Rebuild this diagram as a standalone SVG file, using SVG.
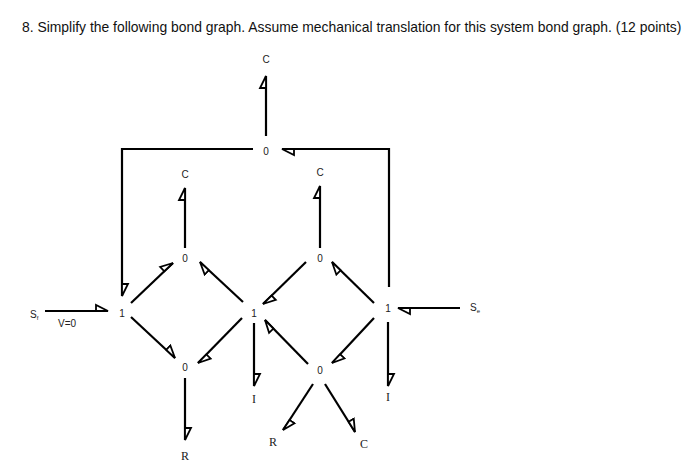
<svg xmlns="http://www.w3.org/2000/svg" width="700" height="476" viewBox="0 0 700 476">
<style>
text{font-family:"Liberation Sans",Arial,sans-serif;font-size:10px;fill:#222}
.s{font-family:"Liberation Serif","Times New Roman",serif;font-size:12px}
.t{font-size:13.9px;fill:#111}
.b{stroke:#000;stroke-width:2.2;fill:none;marker-end:url(#h)}
</style>
<defs>
<marker id="h" markerUnits="userSpaceOnUse" viewBox="-13 -8 15 16" markerWidth="15" markerHeight="16" refX="0" refY="0" orient="auto">
<path d="M0,0 L-12,-6 L-12,0 Z" fill="#fff" stroke="#000" stroke-width="1.8"/>
</marker>
</defs>
<rect width="700" height="476" fill="#fff"/>
<text class="t" x="22" y="32">8.  Simplify the following bond graph. Assume mechanical translation for this system bond graph. (12 points)</text>
<g id="connectors">
<path class="b" d="M266,136 V76"/>
<path class="b" d="M253,149 H122 V296"/>
<path class="b" d="M389,287 V149 H282"/>
<path class="b" d="M45,311 H108"/>
<path class="b" d="M460,308 H398"/>
<path class="b" d="M185,248 V188"/>
<path class="b" d="M320,248 V186"/>
<path class="b" d="M185,378 V440"/>
<path class="b" d="M254,323 V386"/>
<path class="b" d="M388,322 V386"/>
<path class="b" d="M131,303 L173,263"/>
<path class="b" d="M243,302 L200,262"/>
<path class="b" d="M131,317 L175,358"/>
<path class="b" d="M242,318 L198,363"/>
<path class="b" d="M306,262 L263,304"/>
<path class="b" d="M374,303 L332,262"/>
<path class="b" d="M308,364 L265,320"/>
<path class="b" d="M374,318 L332,363"/>
<path class="b" d="M313,384 L283,430"/>
<path class="b" d="M325,384 L355,432"/>
</g>
<g id="n0top"><text x="266" y="155" text-anchor="middle">0</text></g>
<g id="ctop"><text x="266" y="63" text-anchor="middle">C</text></g>
<g id="n1a"><text x="122" y="317" text-anchor="middle">1</text></g>
<g id="n0a"><text x="185" y="262" text-anchor="middle">0</text></g>
<g id="ca"><text x="185" y="178" text-anchor="middle">C</text></g>
<g id="n0b"><text x="185" y="371" text-anchor="middle">0</text></g>
<g id="rb"><text class="s" x="185" y="460" text-anchor="middle">R</text></g>
<g id="n1b"><text x="254" y="317" text-anchor="middle">1</text></g>
<g id="ib"><text class="s" x="254" y="403" text-anchor="middle">I</text></g>
<g id="n0c"><text x="320" y="262" text-anchor="middle">0</text></g>
<g id="cc"><text x="320" y="176" text-anchor="middle">C</text></g>
<g id="n0d"><text x="320" y="374" text-anchor="middle">0</text></g>
<g id="rd"><text class="s" x="273" y="446" text-anchor="middle">R</text></g>
<g id="cd"><text class="s" x="364" y="448" text-anchor="middle">C</text></g>
<g id="n1c"><text x="388" y="312" text-anchor="middle">1</text></g>
<g id="ic"><text class="s" x="388" y="401" text-anchor="middle">I</text></g>
<g id="sf"><text x="30" y="318">S<tspan font-size="6" dy="2">f</tspan></text><text x="58" y="327">V=0</text></g>
<g id="se"><text x="470" y="311">S<tspan font-size="6" dy="2">e</tspan></text></g>
</svg>
